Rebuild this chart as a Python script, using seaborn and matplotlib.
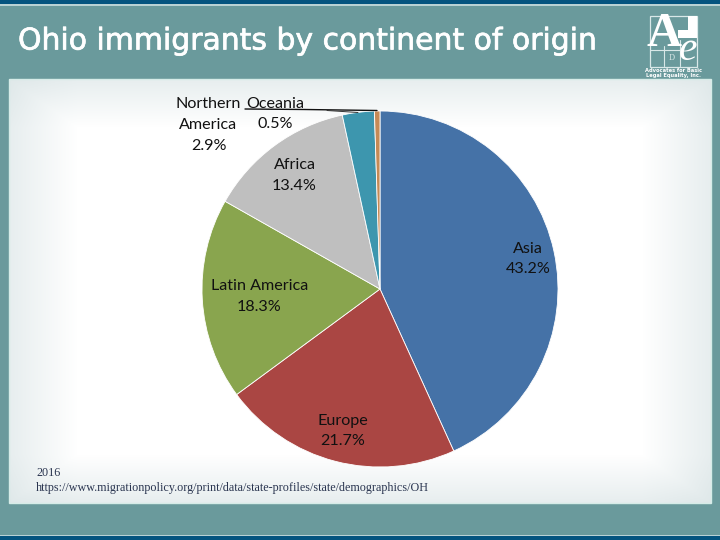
import matplotlib
matplotlib.use("Agg")
import matplotlib.pyplot as plt
import matplotlib.patheffects as pe
from matplotlib.patches import Rectangle
import numpy as np
import seaborn as sns

# values
regions = ["Asia", "Europe", "Latin America", "Africa", "Northern America", "Oceania"]
shares = [43.2, 21.7, 18.3, 13.4, 2.9, 0.5]
slice_colors = ["#4572a7", "#aa4643", "#89a54e", "#bfbfbf", "#3d96ae", "#c68a56"]

title = "Ohio immigrants by continent of origin"
source_year = "2016"
source_url = "https://www.migrationpolicy.org/print/data/state-profiles/state/demographics/OH"

W, H = 720, 540
BG = "#6a9a9c"
BAR = "#04547f"

sns.set_theme(style="white")
plt.rcParams["font.family"] = ["Lato", "DejaVu Sans"]

fig = plt.figure(figsize=(7.2, 5.4), dpi=100, facecolor=BG)

# slide background, in pixel coordinates
bg = fig.add_axes([0, 0, 1, 1])
bg.axis("off")
bg.add_patch(Rectangle((0, 0), W, 4, color=BAR, lw=0))
bg.add_patch(Rectangle((0, 4), W, 1.5, color="#b9d2d4", lw=0))
bg.add_patch(Rectangle((0, 534.5), W, 1.5, color="#b9d2d4", lw=0))
bg.add_patch(Rectangle((0, 536), W, 4, color=BAR, lw=0))

# panel, white middle fading to grey at the edges
px, py = np.meshgrid(np.arange(702), np.arange(424))
fx = np.clip(1 - np.minimum(px, 701 - px) / 68, 0, 1)
fy = np.clip(1 - np.minimum(py, 423 - py) / 48, 0, 1)
fade = np.maximum(fx, fy) * 0.75 + np.minimum(fx, fy) * 0.25
panel = 1 - fade[..., None] * (1 - np.array([0.875, 0.91, 0.915]))
bg.imshow(panel, extent=(9, 711, 503, 79), aspect="auto", zorder=1)
bg.add_patch(Rectangle((9, 79), 702, 424, fill=False, ec="#d6ece8", lw=1, zorder=2))
bg.set_xlim(0, W)
bg.set_ylim(H, 0)

bg.text(18, 41, title, color="white", fontsize=21.5, family="DejaVu Sans", va="center", ha="left", zorder=3,
        path_effects=[pe.withStroke(linewidth=0.5, foreground="white")])

# logo
lc = "#d9e8e8"
bg.add_patch(Rectangle((650, 15.5), 47, 51, fill=False, ec=lc, lw=0.9, zorder=3))
bg.add_patch(Rectangle((688, 15.5), 9, 14, color="white", zorder=3, lw=0))
bg.add_patch(Rectangle((678, 29.5), 19, 8, color="white", zorder=3, lw=0))
bg.plot([650, 680], [50, 50], color=lc, lw=0.8, zorder=3)
bg.plot([664, 664], [46, 66], color=lc, lw=0.8, zorder=3)
bg.plot([680, 680], [40, 66], color=lc, lw=0.8, zorder=3)
bg.text(664, 34, "A", color="white", fontsize=35, family="Liberation Serif", fontweight="bold", ha="center",
        va="center", zorder=4)
bg.text(672, 58, "D", color=lc, fontsize=6, family="Liberation Serif", ha="center", va="center", zorder=4)
bg.text(688, 50, "e", color="white", fontsize=30, family="Liberation Serif", style="italic", ha="center",
        va="center", zorder=4)
bg.text(673.5, 67.5, "Advocates for Basic\nLegal Equality, Inc.", color="white", fontsize=3.7,
        family="DejaVu Sans", fontweight="bold", ha="center", va="top", linespacing=1.15, zorder=4)

# pie, circle centre (380, 289) radius 178 px
side = 2 * 178
ax = fig.add_axes([(380 - 178) / W, 1 - (289 + 178) / H, side / W, side / H], zorder=2)
ax.patch.set_alpha(0)
ax.pie(shares, colors=sns.color_palette(slice_colors), startangle=90, counterclock=False, radius=1,
       wedgeprops={"edgecolor": "white", "linewidth": 0.6})
ax.set_xlim(-1, 1)
ax.set_ylim(-1, 1)

# data labels
top = fig.add_axes([0, 0, 1, 1], zorder=3)
top.set_xlim(0, W)
top.set_ylim(H, 0)
top.axis("off")
txt = {"fontsize": 11.6, "color": "#111111", "ha": "center", "va": "center", "linespacing": 1.6}
top.text(528, 259, f"{regions[0]}\n{shares[0]}%", **txt)
top.text(343, 431, f"{regions[1]}\n{shares[1]}%", **txt)
top.text(259.5, 296.5, f"{regions[2]}\n{shares[2]}%", **txt)
top.text(294.5, 175.5, f"{regions[3]}\n{shares[3]}%", **txt)
top.text(208.5, 125, f"Northern\nAmerica\n{shares[4]}%", **txt)
top.text(275, 114, f"{regions[5]}\n{shares[5]}%", **txt)

# leader lines
top.plot([245, 305, 377], [109, 109.5, 110.5], color="#111111", lw=1.0)
top.plot([327, 358], [110.5, 112.5], color="#333333", lw=0.7)

top.text(36, 472.5, source_year, family="Liberation Serif", fontsize=8.7, color="#2a3550", va="center")
top.text(36, 488, source_url, family="Liberation Serif", fontsize=8.7, color="#2a3550", va="center")

fig.savefig("out.png", dpi=100, facecolor=BG)
